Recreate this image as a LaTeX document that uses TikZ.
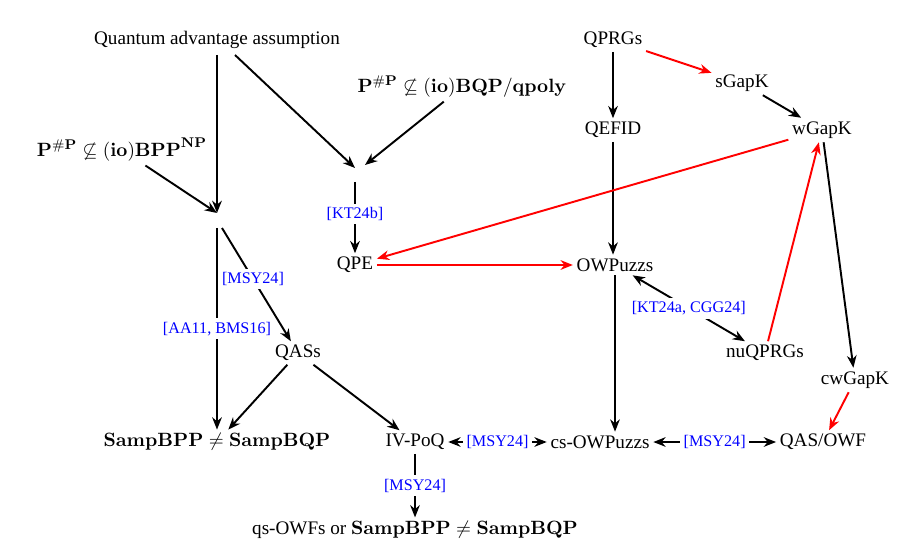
\documentclass[tikz,border=0pt]{standalone}
\usepackage{amssymb}
\usepackage[no-math]{fontspec}
\setmainfont{Liberation Serif}
\usetikzlibrary{arrows.meta}
\begin{document}
\begin{tikzpicture}[x=0.02cm,y=-0.02cm,
  n/.style={inner sep=2pt,font=\fontsize{10.9}{12}\selectfont},
  e/.style={line width=1.1pt,-{Stealth[length=7pt,width=5.5pt]}},
  b/.style={line width=1.1pt,{Stealth[length=7pt,width=5.5pt]}-{Stealth[length=7pt,width=5.5pt]}},
  r/.style={e,red},
  c/.style={fill=white,inner sep=2pt,text=blue,font=\fontsize{9.2}{11}\selectfont}]
\useasboundingbox (0,0) rectangle (908,560);
\node[n] (qaa) at (217,40) {Quantum advantage assumption};
\node[n] (p1) at (462,87) {$\mathbf{P}^{\#\mathbf{P}}\not\subseteq\mathbf{(io)BQP/qpoly}$};
\node[n] (p2) at (122,150) {$\mathbf{P}^{\#\mathbf{P}}\not\subseteq\mathbf{(io)BPP}^{\mathbf{NP}}$};
\coordinate (j1) at (217,213);
\coordinate (j1b) at (217,228);
\coordinate (j1c) at (222,228);
\coordinate (j2) at (355,168);
\coordinate (j2b) at (355,182);
\node[n] (qpe) at (355,265) {QPE};
\node[n] (owp) at (615,265) {OWPuzzs};
\node[n] (qprg) at (613,40) {QPRGs};
\node[n] (qefid) at (613,130) {QEFID};
\node[n] (sg) at (742,83) {sGapK};
\node[n] (wg) at (822,130) {wGapK};
\node[n] (nu) at (765,353) {nuQPRGs};
\node[n] (cw) at (855,380) {cwGapK};
\node[n] (qas) at (823,442) {QAS/OWF};
\node[n] (cs) at (600,442) {cs-OWPuzzs};
\node[n] (iv) at (415,442) {IV-PoQ};
\node[n] (samp) at (217,442) {$\mathbf{SampBPP}\neq\mathbf{SampBQP}$};
\node[n] (qass) at (298,353) {QASs};
\node[n] (qs) at (415,530) {qs-OWFs or $\mathbf{SampBPP}\neq\mathbf{SampBQP}$};

\draw[e] (217,55) -- (j1);
\draw[e] (p2) -- (j1);
\draw[e] (j1b) -- node[c]{[AA11, BMS16]} (samp);
\draw[e] (j1c) -- node[c,pos=0.45]{[MSY24]} (qass);
\draw[e] (235,55) -- (j2);
\draw[e] (p1) -- (365,165);
\draw[e] (j2b) -- node[c,pos=0.45]{[KT24b]} (qpe);
\draw[e] (qprg) -- (qefid);
\draw[e] (qefid.south) -- (qefid.south |- owp.north);
\draw[r] (qprg) -- (sg);
\draw[e] (sg) -- (wg);
\draw[r] (wg) -- (qpe);
\draw[r] (qpe) -- (owp);
\draw[b] (owp) -- node[c]{[KT24a, CGG24]} (nu);
\draw[r] (nu) -- (wg);
\draw[e] (wg) -- (cw);
\draw[r] (cw) -- (qas);
\draw[e] (owp.south) -- (owp.south |- cs.north);
\draw[e] (qass) -- (samp);
\draw[e] (qass) -- (iv);
\draw[b] (iv) -- node[c]{[MSY24]} (cs);
\draw[b] (cs) -- node[c]{[MSY24]} (qas);
\draw[e] (iv) -- node[c]{[MSY24]} (qs);
\end{tikzpicture}
\end{document}
